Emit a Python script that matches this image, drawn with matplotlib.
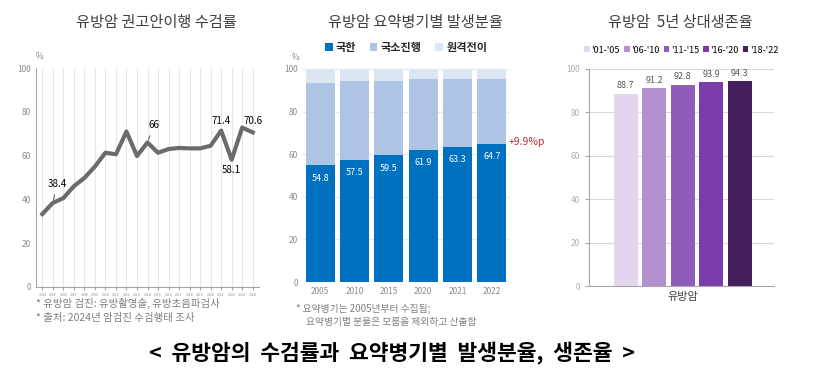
import numpy as np
import matplotlib
matplotlib.use('Agg')
import matplotlib.pyplot as plt

plt.rcParams['font.family'] = ['Noto Sans CJK KR', 'DejaVu Sans']

# left: screening rate
years = list(range(2004, 2025))
screen_rate = [33.3, 38.4, 40.6, 46.0, 49.8, 55.0, 61.3, 60.6, 71.0, 59.8, 66.0,
               61.3, 63.0, 63.5, 63.3, 63.3, 64.5, 71.4, 58.1, 72.8, 70.6]

# middle: stage distribution
stage_years = ['2005', '2010', '2015', '2020', '2021', '2022']
localized = [54.8, 57.5, 59.5, 61.9, 63.3, 64.7]
regional = [38.8, 37.0, 35.0, 33.2, 31.8, 30.8]
distant = [6.4, 5.5, 5.5, 4.9, 4.9, 4.5]

# right: 5-year relative survival
periods = ["'01-'05", "'06-'10", "'11-'15", "'16-'20", "'18-'22"]
survival = [88.7, 91.2, 92.8, 93.9, 94.3]

W, H = 825, 382
fig = plt.figure(figsize=(W / 100, H / 100), dpi=100)


def box(l, t, r, b):
    return [l / W, 1 - b / H, (r - l) / W, (b - t) / H]


grey = '#a6a6a6'
tick_grey = '#8c8c8c'

# ---------- left ----------
ax1 = fig.add_axes(box(36, 68, 259, 287))
x = np.arange(len(years))
ax1.plot(x, screen_rate, color='#6b6b6b', lw=3)
ax1.set_ylim(0, 100)
ax1.set_xlim(-0.6, len(years) - 0.4)
ax1.set_yticks(range(0, 101, 20))
ax1.set_xticks(x)
ax1.set_xticklabels([str(y) for y in years], fontsize=2.6, color=tick_grey)
ax1.tick_params(axis='y', labelsize=6, colors=tick_grey, length=0)
ax1.tick_params(axis='x', length=2, color=grey, pad=2)
ax1.grid(axis='x', color='#e6e6e6', lw=0.8)
for s in ['top', 'right']:
    ax1.spines[s].set_visible(False)
for s in ['left', 'bottom']:
    ax1.spines[s].set_color(grey)
ax1.text(-0.3, 104, '%', fontsize=6, color=tick_grey, ha='center')
ax1.annotate('38.4', xy=(1, screen_rate[1]), xytext=(1.4, 45.5), fontsize=7,
             ha='center', arrowprops=dict(arrowstyle='-', color='#404040', lw=0.6))
ax1.annotate('66', xy=(10, screen_rate[10]), xytext=(10.6, 72.5), fontsize=7,
             ha='center', arrowprops=dict(arrowstyle='-', color='#404040', lw=0.6))
ax1.text(17, 74.5, '71.4', fontsize=7, ha='center')
ax1.text(18, 52, '58.1', fontsize=7, ha='center')
ax1.text(20, 74.5, '70.6', fontsize=7, ha='center')
fig.text(156 / W, 1 - 22 / H, '유방암 권고안이행 수검률', fontsize=11, ha='center',
         va='center', color='#404040')
fig.text(36 / W, 1 - 303 / H, '* 유방암 검진: 유방촬영술, 유방초음파검사', fontsize=7.5,
         color='#7f7f7f', va='center')
fig.text(36 / W, 1 - 318 / H, '* 출처: 2024년 암검진 수검행태 조사', fontsize=7.5,
         color='#7f7f7f', va='center')

# ---------- middle ----------
ax2 = fig.add_axes(box(303, 69, 509, 282))
xs = np.arange(len(stage_years))
bw = 0.84
c1, c2, c3 = '#0070c0', '#adc4e4', '#dce6f2'
ax2.bar(xs, localized, bw, color=c1, label='국한', zorder=2)
ax2.bar(xs, regional, bw, bottom=localized, color=c2, label='국소진행', zorder=2)
bottom3 = [a + b for a, b in zip(localized, regional)]
ax2.bar(xs, distant, bw, bottom=bottom3, color=c3, label='원격전이', zorder=2)
for xi, v in zip(xs, localized):
    ax2.text(xi, v - 6, f'{v}', color='white', fontsize=6.5, ha='center', va='center',
             zorder=3)
ax2.set_ylim(0, 100)
ax2.set_xlim(-0.5, len(stage_years) - 0.5)
ax2.set_yticks(range(0, 101, 20))
ax2.set_xticks(xs)
ax2.set_xticklabels(stage_years)
ax2.tick_params(axis='both', labelsize=6, colors=tick_grey, length=0)
ax2.grid(axis='y', color='#e6e6e6', lw=0.8, zorder=0)
for s in ax2.spines.values():
    s.set_visible(False)
ax2.text(-0.72, 104, '%', fontsize=6, color=tick_grey, ha='center')
ax2.text(5.48, localized[-1] + 1, '+9.9%p', color='#b03030', fontsize=7.5, va='center')
leg = ax2.legend(loc='lower center', bbox_to_anchor=(0.5, 1.05), ncol=3, frameon=False,
                 fontsize=8, handlelength=0.7, handleheight=0.7, handletextpad=0.3,
                 columnspacing=1.2, borderaxespad=0)
for t in leg.get_texts():
    t.set_fontweight('bold')
    t.set_color('#262626')
fig.text(415 / W, 1 - 22 / H, '유방암 요약병기별 발생분율', fontsize=11, ha='center',
         va='center', color='#404040')
fig.text(296 / W, 1 - 309 / H, '* 요약병기는 2005년부터 수집됨;', fontsize=7,
         color='#7f7f7f', va='center')
fig.text(306 / W, 1 - 322 / H, '요약병기별 분율은 모름을 제외하고 산출함', fontsize=7,
         color='#7f7f7f', va='center')

# ---------- right ----------
ax3 = fig.add_axes(box(589, 69, 774, 286))
colors = ['#e2d6ec', '#b391d1', '#8f5cba', '#7a3bab', '#44205f']
xp = np.arange(len(periods))
for xi, v, c, lab in zip(xp, survival, colors, periods):
    ax3.bar(xi, v, 0.84, color=c, label=lab, zorder=2)
    ax3.text(xi, v + 2.5, f'{v}', fontsize=6.5, color='#595959', ha='center')
ax3.set_ylim(0, 100)
ax3.set_xlim(-1.28, 5.2)
ax3.set_yticks(range(0, 101, 20))
ax3.set_xticks([2])
ax3.set_xticklabels(['유방암'])
ax3.tick_params(axis='y', labelsize=6, colors='#b0b0b0', length=3, color=grey)
ax3.tick_params(axis='x', labelsize=8, colors='#404040', length=0, pad=4)
ax3.grid(axis='y', color='#d9d9d9', lw=0.8, zorder=0)
for s in ['top', 'right']:
    ax3.spines[s].set_visible(False)
for s in ['left', 'bottom']:
    ax3.spines[s].set_color(grey)
ax3.legend(loc='lower center', bbox_to_anchor=(0.5, 1.05), ncol=5, frameon=False,
           fontsize=6.5, handlelength=0.6, handleheight=0.6, handletextpad=0.2,
           columnspacing=0.45, borderaxespad=0)
fig.text(680 / W, 1 - 22 / H, '유방암  5년 상대생존율', fontsize=11, ha='center',
         va='center', color='#404040')

# caption
fig.text(392 / W, 1 - 353 / H, '<  유방암의  수검률과  요약병기별  발생분율,  생존율  >',
         fontsize=15.5, fontweight='bold', ha='center', va='center')

fig.savefig('out.png', dpi=100)
